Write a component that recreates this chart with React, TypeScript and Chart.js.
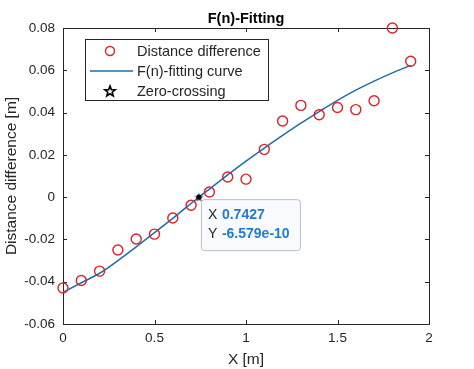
import React, { useEffect, useRef } from 'react';
import { Chart, registerables } from 'chart.js';

Chart.register(...registerables);

// ---- data ----
const sampleX = [0, 0.1, 0.2, 0.3, 0.4, 0.5, 0.6, 0.7, 0.8, 0.9, 1.0, 1.1, 1.2, 1.3, 1.4, 1.5, 1.6, 1.7, 1.8, 1.9];
const distanceDiff = [-0.043, -0.0394, -0.035, -0.025, -0.0198, -0.0175, -0.0099, -0.0038, 0.0024, 0.0095, 0.0085, 0.0226, 0.036, 0.0434, 0.039, 0.0424, 0.0414, 0.0456, 0.0800, 0.0643];
const fitX = [0, 0.1, 0.2, 0.3, 0.4, 0.5, 0.6, 0.7, 0.7427, 0.8, 0.9, 1.0, 1.1, 1.2, 1.3, 1.4, 1.5, 1.6, 1.7, 1.8, 1.9];
const fitY = [-0.045, -0.0405, -0.036, -0.030, -0.0235, -0.0168, -0.0100, -0.0030, 0, 0.0038, 0.0105, 0.0170, 0.0232, 0.0292, 0.0350, 0.0405, 0.0458, 0.0506, 0.0549, 0.0588, 0.0623];
const zeroX = [0.7427];
const zeroY = [-6.579e-10];
const xTicks = [0, 0.5, 1, 1.5, 2];
const xTickLabels = ['0', '0.5', '1', '1.5', '2'];
const yTicks = [-0.06, -0.04, -0.02, 0, 0.02, 0.04, 0.06, 0.08];
const yTickLabels = ['-0.06', '-0.04', '-0.02', '0', '0.02', '0.04', '0.06', '0.08'];
const seriesLabels = ['Distance difference', 'F(n)-fitting curve', 'Zero-crossing'];
const titleText = 'F(n)-Fitting';
const xTitle = 'X [m]';
const yTitle = 'Distance difference [m]';

const RED = 'rgb(222,32,40)';
const BLUE = '#1c6ead';
const AXIS = '#262626';
const FONT = "'Liberation Sans', Arial, Helvetica, sans-serif";

function starPath(ctx: CanvasRenderingContext2D, cx: number, cy: number, r: number) {
  const inner = r * 0.42;
  ctx.beginPath();
  for (let i = 0; i < 10; i++) {
    const rad = i % 2 === 0 ? r : inner;
    const a = -Math.PI / 2 + (i * Math.PI) / 5;
    const x = cx + rad * Math.cos(a);
    const y = cy + rad * Math.sin(a);
    if (i === 0) ctx.moveTo(x, y);
    else ctx.lineTo(x, y);
  }
  ctx.closePath();
}

function makeStarCanvas(): HTMLCanvasElement {
  const c = document.createElement('canvas');
  c.width = 11;
  c.height = 11;
  const ctx = c.getContext('2d')!;
  starPath(ctx, 5.5, 6, 4.2);
  ctx.strokeStyle = 'rgba(0,0,0,0.8)';
  ctx.lineWidth = 1;
  ctx.setLineDash([1.5, 1]);
  ctx.stroke();
  return c;
}

const boxPlugin = {
  id: 'matlabBox',
  beforeDatasetsDraw(chart: any) {
    const { ctx, chartArea } = chart;
    const { left, right, top, bottom } = chartArea;
    const xs = chart.scales.x;
    const ys = chart.scales.y;
    ctx.save();
    ctx.strokeStyle = AXIS;
    ctx.lineWidth = 1;
    ctx.strokeRect(Math.round(left) + 0.5, Math.round(top) + 0.5, Math.round(right - left), Math.round(bottom - top));
    const tl = 4;
    ctx.beginPath();
    xTicks.forEach((v) => {
      const x = Math.round(xs.getPixelForValue(v)) + 0.5;
      ctx.moveTo(x, bottom);
      ctx.lineTo(x, bottom - tl);
      ctx.moveTo(x, top);
      ctx.lineTo(x, top + tl);
    });
    yTicks.forEach((v) => {
      const y = Math.round(ys.getPixelForValue(v)) + 0.5;
      ctx.moveTo(left, y);
      ctx.lineTo(left + tl, y);
      ctx.moveTo(right, y);
      ctx.lineTo(right - tl, y);
    });
    ctx.stroke();
    ctx.restore();
  },
};

const overlayPlugin = {
  id: 'overlay',
  afterDraw(chart: any) {
    const { ctx, chartArea } = chart;
    const xs = chart.scales.x;
    const ys = chart.scales.y;
    ctx.save();

    // title
    ctx.textAlign = 'center';
    ctx.textBaseline = 'middle';
    ctx.fillStyle = '#000';
    ctx.font = `bold 14.5px ${FONT}`;
    ctx.fillText(titleText, (chartArea.left + chartArea.right) / 2, 19);

    // data tip
    const px = xs.getPixelForValue(zeroX[0]);
    const py = ys.getPixelForValue(zeroY[0]);
    ctx.fillStyle = '#000';
    ctx.beginPath();
    ctx.arc(px, py, 2.6, 0, Math.PI * 2);
    ctx.fill();

    const bx = px + 2;
    const by = py + 2;
    const bw = 99;
    const bh = 51;
    ctx.beginPath();
    ctx.roundRect(bx + 0.5, by + 0.5, bw, bh, 3);
    ctx.fillStyle = '#f8fafd';
    ctx.fill();
    ctx.strokeStyle = '#b9bec6';
    ctx.lineWidth = 1;
    ctx.stroke();

    ctx.textBaseline = 'middle';
    ctx.textAlign = 'left';
    ctx.font = `14px ${FONT}`;
    ctx.fillStyle = AXIS;
    ctx.fillText('X', px + 9, py + 18);
    ctx.fillText('Y', px + 9, py + 37);
    ctx.font = `bold 14px ${FONT}`;
    ctx.fillStyle = '#1f7bd8';
    ctx.fillText(String(zeroX[0]), px + 23, py + 18);
    ctx.fillText(zeroY[0].toExponential(3), px + 23, py + 37);

    // legend
    const lx = chartArea.left + 22;
    const ly = chartArea.top + 11;
    const lw = 183;
    const lh = 61;
    ctx.fillStyle = '#fff';
    ctx.fillRect(lx + 0.5, ly + 0.5, lw, lh);
    ctx.strokeStyle = AXIS;
    ctx.lineWidth = 1;
    ctx.strokeRect(lx + 0.5, ly + 0.5, lw, lh);

    const mx = lx + 25;
    const rows = [ly + 12, ly + 32, ly + 52];
    ctx.beginPath();
    ctx.arc(mx, rows[0], 4.5, 0, Math.PI * 2);
    ctx.strokeStyle = RED;
    ctx.lineWidth = 1.4;
    ctx.stroke();
    ctx.beginPath();
    ctx.moveTo(lx + 5, rows[1]);
    ctx.lineTo(lx + 48, rows[1]);
    ctx.strokeStyle = BLUE;
    ctx.lineWidth = 1.5;
    ctx.stroke();
    starPath(ctx, mx, rows[2] + 0.5, 5.5);
    ctx.strokeStyle = '#000';
    ctx.lineWidth = 1.6;
    ctx.stroke();

    ctx.fillStyle = AXIS;
    ctx.font = `14.5px ${FONT}`;
    seriesLabels.forEach((t, i) => ctx.fillText(t, lx + 52, rows[i] + 1));

    ctx.restore();
  },
};

export default function App() {
  const ref = useRef<HTMLCanvasElement | null>(null);

  useEffect(() => {
    document.body.style.margin = '0';
    const canvas = ref.current;
    if (!canvas) return;
    const star = makeStarCanvas();

    const chart = new Chart(canvas, {
      type: 'scatter',
      data: {
        datasets: [
          {
            label: seriesLabels[1],
            data: fitX.map((x, i) => ({ x, y: fitY[i] })),
            showLine: true,
            borderColor: BLUE,
            borderWidth: 1.5,
            pointRadius: 0,
            cubicInterpolationMode: 'monotone',
            order: 2,
          },
          {
            label: seriesLabels[0],
            data: sampleX.map((x, i) => ({ x, y: distanceDiff[i] })),
            showLine: false,
            pointStyle: 'circle',
            pointRadius: 5,
            borderColor: RED,
            borderWidth: 1.4,
            backgroundColor: 'rgba(0,0,0,0)',
            clip: false,
            order: 1,
          } as any,
          {
            label: seriesLabels[2],
            data: zeroX.map((x, i) => ({ x, y: zeroY[i] })),
            showLine: false,
            pointStyle: star,
            pointRadius: 4,
            order: 0,
          } as any,
        ],
      },
      options: {
        responsive: false,
        animation: false,
        events: [],
        layout: { padding: { top: 28, right: 45, bottom: 0, left: 0 } },
        plugins: {
          legend: { display: false },
          tooltip: { enabled: false },
          title: { display: false },
        },
        scales: {
          x: {
            type: 'linear',
            min: 0,
            max: 2,
            grid: { display: false, drawTicks: false },
            border: { display: false },
            afterBuildTicks: (s: any) => {
              s.ticks = xTicks.map((v) => ({ value: v }));
            },
            afterFit: (s: any) => {
              s.height = 45;
            },
            ticks: {
              padding: 6,
              color: AXIS,
              font: { family: FONT, size: 13.5 },
              maxRotation: 0,
              callback: (_v: any, i: number) => xTickLabels[i],
            },
            title: {
              display: true,
              text: xTitle,
              color: AXIS,
              font: { family: FONT, size: 15.5 },
              padding: { top: 0, bottom: 0 },
            },
          },
          y: {
            type: 'linear',
            min: -0.06,
            max: 0.08,
            grid: { display: false, drawTicks: false },
            border: { display: false },
            afterBuildTicks: (s: any) => {
              s.ticks = yTicks.map((v) => ({ value: v }));
            },
            afterFit: (s: any) => {
              s.width = 63;
            },
            ticks: {
              padding: 8,
              color: AXIS,
              font: { family: FONT, size: 13.5 },
              callback: (_v: any, i: number) => yTickLabels[i],
            },
            title: {
              display: true,
              text: yTitle,
              color: AXIS,
              font: { family: FONT, size: 15.5 },
              padding: { top: 2.5, bottom: 0 },
            },
          },
        },
      },
      plugins: [boxPlugin, overlayPlugin],
    } as any);

    return () => {
      chart.destroy();
    };
  }, []);

  return (
    <div style={{ width: 474, height: 369, background: '#fff' }}>
      <canvas ref={ref} width={474} height={369} style={{ display: 'block' }} />
    </div>
  );
}
